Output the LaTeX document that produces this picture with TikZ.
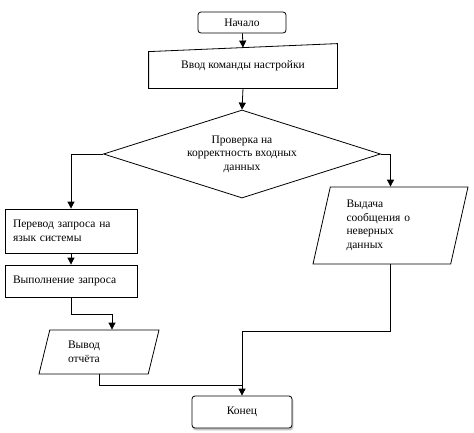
\documentclass[tikz,border=0pt]{standalone}
\usepackage{fontspec}
\setmainfont{Liberation Serif}
\usetikzlibrary{shapes.geometric, arrows.meta, calc, shadows}

\begin{document}
\begin{tikzpicture}[
    x=1pt, y=-1pt, line width=0.8pt,
    every node/.style={font=\fontsize{11.5}{13.5}\selectfont},
    term/.style={draw, fill=white, rounded corners=3pt, inner sep=0pt},
    box/.style={draw, inner sep=0pt, minimum width=132pt, text width=116pt, align=left},
    io/.style={draw, trapezium, trapezium stretches body, inner sep=0pt, align=left},
    arr/.style={-{Triangle[width=7pt,length=7pt]}},
]
\useasboundingbox (0,0) rectangle (474,432);
% main column
\node[term, minimum width=88pt, minimum height=21pt] (start) at (242,22.5) {Начало};
\node[minimum width=188pt, minimum height=44pt, inner sep=0pt] (input) at (243,66) {Ввод команды настройки};
\draw (input.south west) -- ([yshift=-8pt]input.north west) -- (input.north east) -- (input.south east) -- cycle;
\node[draw, diamond, aspect=3.15, minimum width=277pt, minimum height=88pt, inner sep=0pt, align=center] (check) at (242,154)
    {Проверка на\\корректность входных\\данных};
% left branch
\node[box, minimum height=44pt] (transl) at (71,231) {Перевод запроса на\\язык системы};
\node[box, minimum height=32pt] (exec) at (71,281) {Выполнение запроса};
\node[io, trapezium left angle=63, trapezium right angle=117, minimum width=120pt, minimum height=44pt, text width=62pt] (report) at (99,352) {Вывод\\отчёта};
% right branch
\node[io, trapezium left angle=71, trapezium right angle=109, minimum width=155pt, minimum height=77pt, text width=88pt] (error) at (390.5,225.5) {Выдача\\сообщения о\\неверных\\данных};
\node[term, minimum width=100pt, minimum height=32pt, copy shadow={shadow xshift=1pt, shadow yshift=-2pt, fill=gray!45, draw=gray!45}] (end) at (242,412) {Конец};
\coordinate (repin) at ($(report.center |- report.north)+(13,0)$);
\coordinate (join) at (242,331);
\coordinate (merge) at (242,385);
\draw[arr] (start) -- ([yshift=-4pt]input.north);
\draw[arr] (input.south) -- (check.north);
\draw[arr] (check.west) -| (transl.north);
\draw[arr] (check.east) -| (error.center |- error.north);
\draw[arr] (transl) -- (exec);
\draw[arr] (exec.south) -- ++(0,17) -| (repin);
\draw (report.center |- report.south) |- (merge);
\draw[arr] (error.center |- error.south) |- (join) -- (end.north);
\end{tikzpicture}
\end{document}
